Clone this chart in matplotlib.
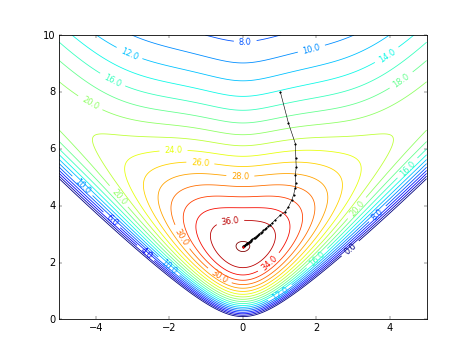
import numpy as np
import matplotlib
matplotlib.use("Agg")
import matplotlib.pyplot as plt

plt.style.use("classic")

# ---- data ----
levels = [0, 2, 4, 6, 8, 10, 12, 14, 16, 18, 20, 22, 24, 26, 28, 30, 32, 34, 36, 38]
peak_value = 38.1          # height of the surface at its maximum
peak_width = 2.46          # distance above the valley floor where the ridge sits
floor_y0 = 0.1             # valley floor at x = 0
arm_slope = 1.076          # steepness of the V-shaped valley arms
arm_bend = 0.0176          # extra upward bend of the arms
side_floor = 0.55          # relative ridge height far out on the arms
side_width = 6.0           # how fast the ridge falls off away from x = 0

path_x = [1.02, 1.24, 1.43, 1.44, 1.45, 1.43, 1.44, 1.42, 1.38, 1.33, 1.24, 1.15,
          1.02, 0.88, 0.80, 0.74, 0.69, 0.64, 0.60, 0.56, 0.52, 0.48, 0.44, 0.41,
          0.38, 0.35, 0.32, 0.29, 0.26, 0.23, 0.21, 0.18, 0.16, 0.14, 0.12, 0.10,
          0.08, 0.06, 0.05, 0.04, 0.03, 0.02, 0.01, 0.0]
path_y = [7.99, 6.90, 6.17, 5.69, 5.37, 5.08, 4.79, 4.61, 4.38, 4.20, 3.96, 3.79,
          3.67, 3.50, 3.40, 3.32, 3.27, 3.22, 3.17, 3.13, 3.09, 3.05, 3.01, 2.97,
          2.94, 2.91, 2.88, 2.85, 2.82, 2.79, 2.77, 2.74, 2.72, 2.70, 2.68, 2.66,
          2.64, 2.62, 2.61, 2.60, 2.59, 2.58, 2.57, 2.56]

x_ticks = [-4, -2, 0, 2, 4]
y_ticks = [0, 2, 4, 6, 8, 10]

# where the contour labels sit (layout only)
label_spots = [(0.06, 9.9), (1.86, 9.54), (-3.03, 9.54), (3.9, 9.33), (-3.48, 8.6),
               (4.27, 8.49), (-4.11, 7.72), (-1.89, 5.94), (-1.16, 5.49), (-0.07, 5.08),
               (-0.35, 3.5), (-1.71, 2.86), (-0.62, 1.56), (0.73, 1.97), (4.5, 5.3),
               (3.06, 3.97), (3.65, 3.73), (2.92, 2.5), (2.02, 2.15), (1.02, 0.92),
               (-4.39, 4.67), (-3.39, 4.32), (-3.57, 3.5), (-2.66, 2.32), (-2.03, 1.85)]

# ---- surface ----
x = np.linspace(-5, 5, 501)
y = np.linspace(0, 10, 501)
X, Y = np.meshgrid(x, y)
floor = floor_y0 + arm_slope * (np.sqrt(X**2 + 1) - 1) + arm_bend * X**2
U = Y - floor
scale = side_floor + (1 - side_floor) * np.exp(-X**2 / side_width)
Z = peak_value * np.e / peak_width * U * np.exp(-U / peak_width) * scale

fig = plt.figure(figsize=(8, 6), dpi=59.25)
ax = fig.add_axes([0.125, 0.1, 0.775, 0.8])
cs = ax.contour(X, Y, Z, levels=levels, cmap="jet", linewidths=1.0)
ax.clabel(cs, inline=True, fontsize=10, fmt="%1.1f", manual=label_spots)
ax.plot(path_x, path_y, "k.-", markersize=4, linewidth=0.7)
ax.plot([path_x[-1]], [path_y[-1]], "r.", markersize=4)
ax.set_xlim(-5, 5)
ax.set_ylim(0, 10)
ax.set_xticks(x_ticks)
ax.set_yticks(y_ticks)
fig.savefig("out.png", dpi=59.25)
